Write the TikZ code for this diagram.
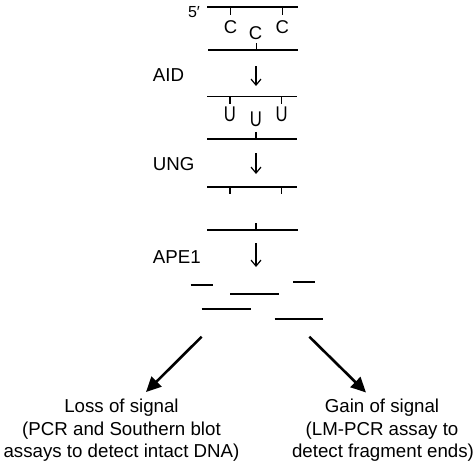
\documentclass[tikz,border=0pt]{standalone}
\usepackage{fontspec}
\setmainfont{Liberation Sans}
\usetikzlibrary{arrows.meta}
\tikzset{
  strand/.style={line width=1.8pt},
  tickline/.style={line width=1.3pt},
  lbl/.style={font=\fontsize{18.7}{22}\selectfont, inner sep=0pt},
  base/.style={font=\fontsize{18.5}{22}\selectfont, inner sep=0pt},
  steparrow/.style={line width=1.2pt, -{Straight Barb[length=6pt,width=10pt]}},
  bigarrow/.style={line width=2.6pt, -{Triangle[length=15pt,width=14pt]}}
}
\newcommand{\tallU}{\scalebox{0.9}[1.15]{U}}
\begin{document}
\begin{tikzpicture}[x=1pt,y=-1pt]
\useasboundingbox (0,0) rectangle (474,463);
% ---- step 1: C C C
\coordinate (s1a) at (207,6.7); \coordinate (s1b) at (298,6.7);
\draw[strand] (s1a) -- (s1b);
\node[base, font=\fontsize{16}{20}\selectfont] (five) at (194,12) {5′};
\draw[tickline] (230.7,6.7) -- (230.7,14.5);
\draw[tickline] (282.7,6.7) -- (282.7,14.5);
\node[base] (c1) at (230.5,27) {C};
\node[base] (c2) at (255.5,32.7) {C};
\node[base] (c3) at (282.2,27) {C};
\coordinate (s1c) at (208,50); \coordinate (s1d) at (298,50);
\draw[strand] (s1c) -- (s1d);
\draw[tickline] (256.2,43) -- (256.2,50);
% AID arrow
\node[lbl, anchor=west] (aid) at (152.7,75) {AID};
\coordinate (a1s) at (256,66); \coordinate (a1e) at (256,86);
\draw[steparrow] (a1s) -- (a1e);
% ---- step 2: U U U
\coordinate (s2a) at (207,96.5); \coordinate (s2b) at (297,96.5);
\draw[strand] (s2a) -- (s2b);
\draw[tickline] (230,96.5) -- (230,103.5);
\draw[tickline] (281.7,96.5) -- (281.7,103.5);
\node[base] (u1) at (230,114.5) {\tallU};
\node[base] (u2) at (256,119.5) {\tallU};
\node[base] (u3) at (281.7,114.5) {\tallU};
\coordinate (s2c) at (207,138.7); \coordinate (s2d) at (297,138.7);
\draw[strand] (s2c) -- (s2d);
\draw[tickline] (256,131.8) -- (256,138.7);
% UNG arrow
\node[lbl, anchor=west] (ung) at (152.7,164) {UNG};
\coordinate (a2s) at (256,153); \coordinate (a2e) at (256,174);
\draw[steparrow] (a2s) -- (a2e);
% ---- step 3: abasic sites
\coordinate (s3a) at (207,187.3); \coordinate (s3b) at (297,187.3);
\draw[strand] (s3a) -- (s3b);
\draw[tickline] (230,187.3) -- (230,193.8);
\draw[tickline] (281.7,187.3) -- (281.7,193.8);
\coordinate (s3c) at (207,230); \coordinate (s3d) at (298,230);
\draw[strand] (s3c) -- (s3d);
\draw[tickline] (256,223.3) -- (256,230);
% APE1 arrow
\node[lbl, anchor=west] (ape) at (152.7,256.7) {APE1};
\coordinate (a3s) at (256,243); \coordinate (a3e) at (256,267);
\draw[steparrow] (a3s) -- (a3e);
% ---- fragments
\coordinate (f1a) at (190.7,285); \coordinate (f1b) at (212.7,285);
\coordinate (f2a) at (293.3,281.7); \coordinate (f2b) at (315,281.7);
\coordinate (f3a) at (230,294.3); \coordinate (f3b) at (278.7,294.3);
\coordinate (f4a) at (201.7,309.3); \coordinate (f4b) at (250.7,309.3);
\coordinate (f5a) at (274.7,318.7); \coordinate (f5b) at (323.3,318.7);
\draw[strand] (f1a) -- (f1b);
\draw[strand] (f2a) -- (f2b);
\draw[strand] (f3a) -- (f3b);
\draw[strand] (f4a) -- (f4b);
\draw[strand] (f5a) -- (f5b);
% ---- outcome arrows
\coordinate (la) at (201.7,336.7); \coordinate (lb) at (146,392);
\coordinate (ra) at (309.3,336.7); \coordinate (rb) at (366,392.5);
\draw[bigarrow] (la) -- (lb);
\draw[bigarrow] (ra) -- (rb);
% ---- outcome texts
\node[lbl, anchor=base] (loss1) at (121.5,412.7) {Loss of signal};
\node[lbl, anchor=base] (loss2) at (121.5,435.2) {(PCR and Southern blot};
\node[lbl, anchor=base] (loss3) at (121.5,457.7) {assays to detect intact DNA)};
\node[lbl, anchor=base] (gain1) at (382,412.7) {Gain of signal};
\node[lbl, anchor=base] (gain2) at (382,435.2) {(LM-PCR assay to};
\node[lbl, anchor=base] (gain3) at (383,457.7) {detect fragment ends)};
\end{tikzpicture}
\end{document}
